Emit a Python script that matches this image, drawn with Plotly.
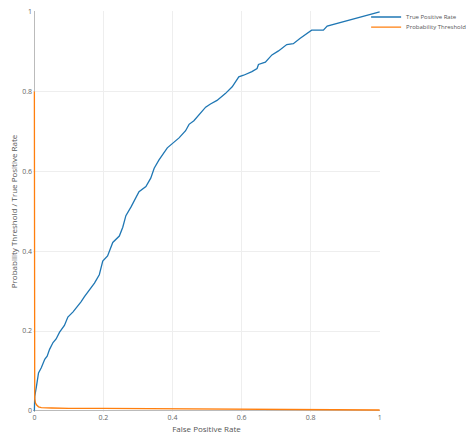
import plotly.graph_objects as go

# Courbe ROC (taux de faux positifs / vrais positifs)
fpr = [0.0, 0.001, 0.006, 0.012, 0.020, 0.030, 0.037, 0.044, 0.054, 0.063,
       0.073, 0.087, 0.097, 0.112, 0.135, 0.145, 0.174, 0.188, 0.198, 0.212,
       0.227, 0.246, 0.256, 0.265, 0.280, 0.289, 0.303, 0.323, 0.337, 0.347,
       0.361, 0.385, 0.395, 0.419, 0.438, 0.448, 0.462, 0.476, 0.496, 0.510,
       0.529, 0.553, 0.573, 0.592, 0.606, 0.630, 0.645, 0.649, 0.669, 0.688,
       0.707, 0.731, 0.750, 0.769, 0.784, 0.803, 0.837, 0.848, 1.0]
tpr = [0.0, 0.036, 0.061, 0.095, 0.108, 0.129, 0.137, 0.154, 0.171, 0.180,
       0.197, 0.214, 0.235, 0.248, 0.273, 0.286, 0.320, 0.341, 0.375, 0.388,
       0.422, 0.438, 0.460, 0.489, 0.511, 0.527, 0.549, 0.562, 0.583, 0.608,
       0.629, 0.659, 0.667, 0.684, 0.702, 0.718, 0.727, 0.740, 0.761, 0.769,
       0.778, 0.795, 0.812, 0.837, 0.841, 0.850, 0.858, 0.868, 0.874, 0.892,
       0.902, 0.918, 0.920, 0.933, 0.943, 0.954, 0.954, 0.964, 1.0]

# Seuil de probabilité en fonction du taux de faux positifs
fpr_seuil = [0.0, 0.0, 0.001, 0.003, 0.006, 0.012, 0.020, 0.050, 0.100,
             0.200, 0.400, 0.600, 0.800, 1.0]
seuil = [0.80, 0.05, 0.030, 0.020, 0.015, 0.010, 0.008, 0.007, 0.006,
         0.006, 0.005, 0.004, 0.003, 0.002]

fig = go.Figure()
fig.add_trace(go.Scatter(x=fpr, y=tpr, mode="lines", name="True Positive Rate",
                         line=dict(color="#1f77b4", width=1.3),
                         legend="legend"))
fig.add_trace(go.Scatter(x=fpr_seuil, y=seuil, mode="lines",
                         name="Probability Threshold",
                         line=dict(color="#ff7f0e", width=1.3),
                         legend="legend2"))

# Mise en page (la page décale la figure de 8 px : marge du body)
axe = dict(tickvals=[0, 0.2, 0.4, 0.6, 0.8, 1],
           ticktext=["0", "0.2", "0.4", "0.6", "0.8", "1"],
           gridcolor="#eeeeee", zeroline=True, zerolinecolor="#bbbbbb",
           zerolinewidth=1, showline=False, ticks="",
           ticklabeloverflow="allow",
           tickfont=dict(size=7, color="#666"))
leg = dict(x=0.96, xanchor="left", yanchor="middle",
           font=dict(size=6), bgcolor="rgba(0,0,0,0)", itemwidth=30)
fig.update_layout(
    width=466, height=426,
    template="none",
    paper_bgcolor="white", plot_bgcolor="white",
    font=dict(family="Open Sans", size=7, color="#555"),
    margin=dict(l=25, r=94, t=3, b=22, autoexpand=False),
    xaxis=dict(axe, range=[-0.004, 1.001],
               title=dict(text="False Positive Rate", standoff=7)),
    yaxis=dict(axe, range=[-0.003, 1.002],
               title=dict(text="Probability Threshold / True Positive Rate",
                          standoff=13)),
    legend=dict(leg, y=0.985),
    legend2=dict(leg, y=0.960),
    showlegend=True,
)

fig.write_html("out.html")
